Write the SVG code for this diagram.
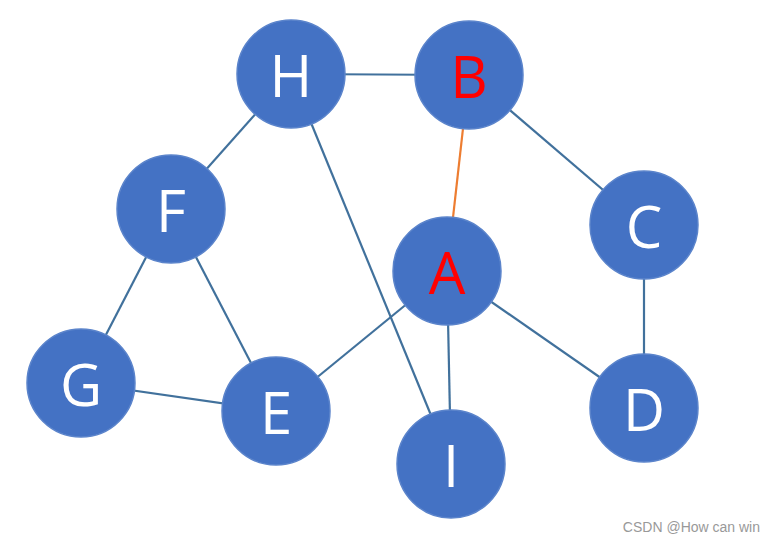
<svg xmlns="http://www.w3.org/2000/svg" width="775" height="543" viewBox="0 0 775 543">
<style>
.n{fill:#4472C4;stroke:#5B84CB;stroke-width:1.5}
.t{font-family:"Open Sans","Liberation Sans",sans-serif;font-size:58px;fill:#fff;text-anchor:middle;dominant-baseline:central}
.r{fill:#FF0000}
#edges line{stroke:#41719C;stroke-width:2.2}
</style>
<rect width="775" height="543" fill="#fff"/>
<g id="edges">
<line x1="291" y1="74" x2="469" y2="75"/>
<line x1="291" y1="74" x2="171" y2="209"/>
<line x1="291" y1="74" x2="451" y2="464"/>
<line x1="469" y1="75" x2="644" y2="225"/>
<line x1="469" y1="75" x2="447" y2="271" style="stroke:#ED7D31"/>
<line x1="171" y1="209" x2="81" y2="383"/>
<line x1="171" y1="209" x2="276" y2="411"/>
<line x1="81" y1="383" x2="276" y2="411"/>
<line x1="276" y1="411" x2="447" y2="271"/>
<line x1="447" y1="271" x2="451" y2="464"/>
<line x1="447" y1="271" x2="644" y2="408"/>
<line x1="644" y1="225" x2="644" y2="408"/>
</g>
<g id="H"><circle class="n" cx="291" cy="74" r="54"/><text class="t" x="291" y="74">H</text></g>
<g id="B"><circle class="n" cx="469" cy="75" r="54"/><text class="t r" x="469" y="75">B</text></g>
<g id="F"><circle class="n" cx="171" cy="209" r="54"/><text class="t" x="171" y="209">F</text></g>
<g id="C"><circle class="n" cx="644" cy="225" r="54"/><text class="t" x="644" y="225">C</text></g>
<g id="A"><circle class="n" cx="447" cy="271" r="54"/><text class="t r" x="447" y="271">A</text></g>
<g id="G"><circle class="n" cx="81" cy="383" r="54"/><text class="t" x="81" y="383">G</text></g>
<g id="E"><circle class="n" cx="276" cy="411" r="54"/><text class="t" x="276" y="411">E</text></g>
<g id="D"><circle class="n" cx="644" cy="408" r="54"/><text class="t" x="644" y="408">D</text></g>
<g id="I"><circle class="n" cx="451" cy="464" r="54"/><text class="t" x="451" y="464">I</text></g>
<text x="760" y="532" font-family="Liberation Sans,sans-serif" font-size="14" fill="#999" text-anchor="end">CSDN @How can win</text>
</svg>
